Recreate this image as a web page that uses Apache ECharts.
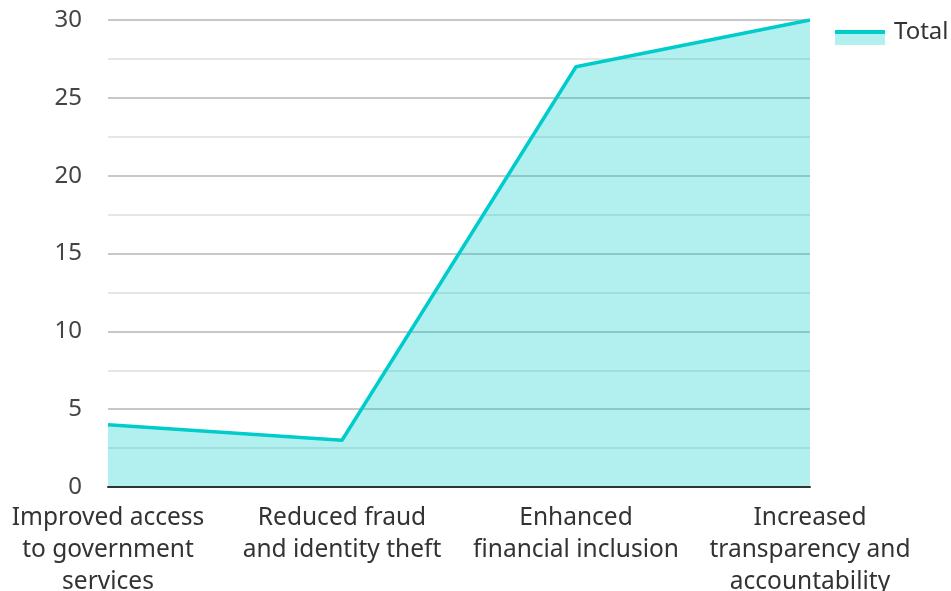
<!DOCTYPE html>
<html>
<head>
<meta charset="utf-8">
<script src="https://cdn.jsdelivr.net/npm/echarts@6/dist/echarts.min.js"></script>
<style>
  html, body { margin: 0; padding: 0; background: #fff; }
  #chart { width: 951px; height: 591px; }
</style>
</head>
<body>
<div id="chart"></div>
<script>
const categories = [
  'Improved access\nto government\nservices',
  'Reduced fraud\nand identity theft',
  'Enhanced\nfinancial inclusion',
  'Increased\ntransparency and\naccountability'
];
const totalValues = [4, 3, 27, 30];
const yTicks = { min: 0, max: 30, interval: 5 };

const lineColor = '#00cccc';
const fillColor = 'rgba(0,204,204,0.3)';

// legend icon: thick line on top, light area below
const legendIconFill = new echarts.graphic.LinearGradient(0, 0, 0, 1, [
  { offset: 0, color: 'rgba(0,0,0,0)' },
  { offset: 0.443, color: 'rgba(0,0,0,0)' },
  { offset: 0.443, color: lineColor },
  { offset: 0.557, color: lineColor },
  { offset: 0.557, color: fillColor },
  { offset: 0.933, color: fillColor },
  { offset: 0.933, color: 'rgba(0,0,0,0)' },
  { offset: 1, color: 'rgba(0,0,0,0)' }
]);

const myChart = echarts.init(document.getElementById('chart'));

const option = {
  animation: false,
  textStyle: { fontFamily: 'Noto Sans' },
  grid: { left: 108, right: 141, top: 20, bottom: 104, outerBoundsMode: 'none' },
  legend: {
    data: [{ name: 'Total', icon: 'rect', itemStyle: { color: legendIconFill } }],
    left: 835,
    top: 17,
    padding: 0,
    itemWidth: 50,
    itemHeight: 30,
    textStyle: { fontSize: 24, color: '#333', fontFamily: 'Noto Sans', padding: [0, 0, 0, 4] }
  },
  xAxis: {
    type: 'category',
    data: categories,
    boundaryGap: false,
    z: 5,
    axisLine: { lineStyle: { color: '#333', width: 2 } },
    axisTick: { show: false },
    axisLabel: {
      color: '#333',
      fontSize: 24.5,
      lineHeight: 32,
      margin: 15,
      interval: 0,
      fontFamily: 'Noto Sans'
    }
  },
  yAxis: {
    type: 'value',
    min: yTicks.min,
    max: yTicks.max,
    interval: yTicks.interval,
    axisLine: { show: false },
    axisTick: { show: false },
    axisLabel: { color: '#444', fontSize: 24, margin: 26, fontFamily: 'Noto Sans' },
    splitLine: { lineStyle: { color: '#c8c8c8', width: 2 } },
    minorTick: { show: false, splitNumber: 2 },
    minorSplitLine: { show: true, lineStyle: { color: '#e6e6e6', width: 2 } }
  },
  series: [
    {
      name: 'Total',
      type: 'line',
      data: totalValues,
      symbol: 'none',
      lineStyle: { color: lineColor, width: 3.5 },
      itemStyle: { color: lineColor },
      areaStyle: { color: lineColor, opacity: 0.3 }
    }
  ]
};

myChart.setOption(option);
</script>
</body>
</html>
